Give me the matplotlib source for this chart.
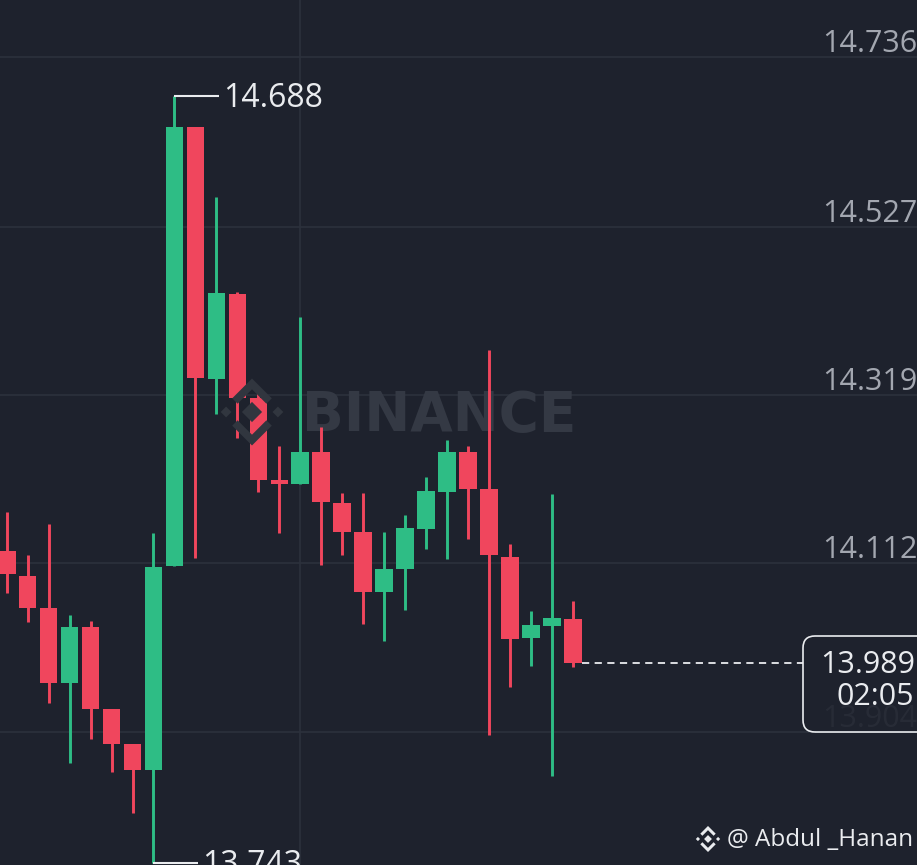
import matplotlib
matplotlib.use("Agg")
import matplotlib.pyplot as plt
from matplotlib.patches import FancyBboxPatch, Polygon
from matplotlib.transforms import IdentityTransform, blended_transform_factory, offset_copy

# ---------------- data ----------------
opens  = [14.127, 14.096, 14.057, 13.964, 14.033, 13.932, 13.889, 13.857,
          14.109, 14.650, 14.339, 14.444, 14.316, 14.215, 14.210, 14.249,
          14.186, 14.150, 14.077, 14.105, 14.154, 14.200, 14.249, 14.203,
          14.120, 14.020, 14.035, 14.043]
highs  = [14.175, 14.122, 14.160, 14.048, 14.041, 13.932, 13.889, 14.149,
          14.688, 14.650, 14.563, 14.446, 14.329, 14.257, 14.415, 14.280,
          14.199, 14.199, 14.150, 14.171, 14.218, 14.264, 14.257, 14.375,
          14.136, 14.053, 14.198, 14.066]
lows   = [14.075, 14.040, 13.940, 13.866, 13.895, 13.855, 13.804, 13.743,
          14.109, 14.118, 14.296, 14.266, 14.200, 14.149, 14.210, 14.110,
          14.122, 14.037, 14.016, 14.055, 14.130, 14.117, 14.142, 13.900,
          13.960, 13.985, 13.850, 13.984]
closes = [14.099, 14.057, 13.964, 14.033, 13.932, 13.889, 13.857, 14.107,
          14.650, 14.340, 14.445, 14.316, 14.215, 14.210, 14.249, 14.188,
          14.150, 14.077, 14.105, 14.155, 14.201, 14.249, 14.203, 14.122,
          14.019, 14.036, 14.045, 13.989]

y_ticks = [14.736, 14.527, 14.319, 14.112, 13.904]
y_tick_labels = ["14.736", "14.527", "14.319", "14.112", "13.904"]
last_price_label = "13.989"
countdown_label = "02:05"
high_label = "14.688"
low_label = "13.743"
watermark_text = "BINANCE"
author_text = "@ Abdul _Hanan"

# ---------------- style ----------------
BG = "#1e222d"
GRID = "#2c313c"
UP = "#2ebd85"
DOWN = "#f0465d"
AXIS_TXT = "#a3a7b0"
WHITE = "#eaecef"
FONT = "Open Sans"

W, H = 917, 865
fig = plt.figure(figsize=(W / 100, H / 100), dpi=100)
fig.patch.set_facecolor(BG)
ax = fig.add_axes([0, 0, 1, 1])
ax.set_facecolor(BG)
ax.set_xlim(-0.32, 43.41)
ax.set_ylim(13.7401, 14.8063)
for s in ax.spines.values():
    s.set_visible(False)
ax.set_xticks([])
ax.set_yticks([])

# grid
for t in y_ticks:
    ax.axhline(t, color=GRID, lw=1.2, zorder=0.5)
ax.axvline(14, color=GRID, lw=1.2, zorder=0.5)

# watermark
ax.text(302 / W, 1 - 416 / H, watermark_text, transform=ax.transAxes,
        fontsize=39.5, fontweight="bold", family="DejaVu Sans",
        color="#343944", ha="left", va="center", zorder=1)


def binance_logo(cx, cy, s, color, z):
    """Draw a simplified Binance diamond logo centered at image pixel (cx, cy)."""
    def P(pts):
        return [(cx + px * s, (H - cy) + py * s) for px, py in pts]
    shapes = [
        [(0, 0.28), (0.28, 0), (0, -0.28), (-0.28, 0)],
        [(-0.72, 0.15), (-0.57, 0), (-0.72, -0.15), (-0.87, 0)],
        [(0.72, 0.15), (0.87, 0), (0.72, -0.15), (0.57, 0)],
        [(-0.55, 0.38), (0, 0.93), (0.55, 0.38), (0.40, 0.23), (0, 0.63), (-0.40, 0.23)],
        [(-0.55, -0.38), (0, -0.93), (0.55, -0.38), (0.40, -0.23), (0, -0.63), (-0.40, -0.23)],
    ]
    for sh in shapes:
        fig.patches.append(Polygon(P(sh), closed=True, transform=IdentityTransform(),
                                   facecolor=color, edgecolor="none", zorder=z))


binance_logo(252, 412, 36, "#31363f", 1)

# candles
xs = list(range(len(opens)))
cols = [UP if c >= o else DOWN for o, c in zip(opens, closes)]
ax.vlines(xs, lows, highs, colors=cols, lw=2.1, zorder=2)
bottoms = [min(o, c) for o, c in zip(opens, closes)]
heights = [max(abs(c - o), 0.004) for o, c in zip(opens, closes)]
ax.bar(xs, heights, bottom=bottoms, width=0.84, color=cols, zorder=3)

# y-axis labels (right, above grid lines)
ytr = offset_copy(blended_transform_factory(ax.transAxes, ax.transData),
                  fig=fig, x=0, y=5, units="dots")
for t, lab in zip(y_ticks, y_tick_labels):
    ax.text(822 / W, t, lab, transform=ytr, fontsize=22, family=FONT,
            color=AXIS_TXT, ha="left", va="baseline", zorder=4)

# high / low annotations
hi_i = highs.index(max(highs))
lo_i = lows.index(min(lows))
txt_tr = offset_copy(ax.transData, fig=fig, x=0, y=-3, units="dots")
ax.hlines(max(highs), hi_i, hi_i + 2.1, color=WHITE, lw=1.5, zorder=4)
ax.text(hi_i + 2.3, max(highs), high_label, transform=txt_tr, fontsize=23,
        family=FONT, color=WHITE, ha="left", va="center", zorder=4)
ax.hlines(min(lows), lo_i, lo_i + 2.1, color=WHITE, lw=1.5, zorder=4)
ax.text(lo_i + 2.3, min(lows), low_label, transform=txt_tr, fontsize=23,
        family=FONT, color=WHITE, ha="left", va="center", zorder=4)

# last price line and box
last = closes[-1]
btr = blended_transform_factory(ax.transAxes, ax.transData)
ax.plot([582 / W, 803 / W], [last, last], transform=btr, color=WHITE,
        lw=1.3, ls=(0, (4, 3)), zorder=4)
box = FancyBboxPatch((803, H - 732), 140, 96,
                     boxstyle="round,pad=0,rounding_size=12",
                     transform=IdentityTransform(), facecolor=BG, alpha=0.93,
                     edgecolor="none", zorder=5)
fig.patches.append(box)
box_edge = FancyBboxPatch((803, H - 732), 140, 96,
                          boxstyle="round,pad=0,rounding_size=12",
                          transform=IdentityTransform(), facecolor="none",
                          edgecolor=WHITE, lw=1.2, zorder=6)
fig.patches.append(box_edge)
fig.text(820 / W, 1 - 665 / H, last_price_label, fontsize=22, family=FONT,
         color=WHITE, ha="left", va="center", zorder=7)
fig.text(837 / W, 1 - 697 / H, countdown_label, fontsize=22, family=FONT,
         color=WHITE, ha="left", va="center", zorder=7)

# author watermark
binance_logo(708, 839, 14, WHITE, 7)
fig.text(727 / W, 1 - 840 / H, author_text, fontsize=17.5, family=FONT,
         color=WHITE, ha="left", va="center", zorder=7)

fig.savefig("out.png", dpi=100, facecolor=BG)
